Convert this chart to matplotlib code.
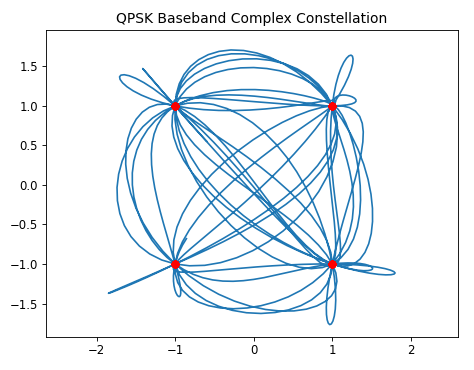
import numpy as np
import matplotlib
matplotlib.use("Agg")
import matplotlib.pyplot as plt

# QPSK symbol sequence (in-phase and quadrature components)
sym_i = [-1, -1, 1, 1, 1, -1, 1, 1, -1, 1, -1, -1, 1, -1, 1, 1, 1, -1, -1, 1,
         -1, 1, 1, 1, -1, 1, -1, 1, 1, 1, -1, -1, 1, -1, 1, -1, -1, 1, 1, -1,
         1, 1, -1, -1, 1, -1, -1, -1]
sym_q = [1, 1, -1, 1, 1, -1, -1, -1, 1, 1, -1, -1, 1, 1, -1, 1, -1, 1, 1, 1,
         -1, -1, 1, 1, 1, -1, -1, 1, -1, -1, 1, -1, 1, 1, -1, -1, 1, -1, 1, 1,
         -1, -1, -1, 1, 1, 1, -1, -1]

sps = 16
beta = 0.25
span = 10

plt.rcParams["font.size"] = 10.6
plt.rcParams["axes.titlesize"] = 12.7

symbols = np.array(sym_i) + 1j * np.array(sym_q)
up = np.zeros(len(symbols) * sps, dtype=complex)
up[::sps] = symbols

t = np.arange(-span * sps // 2, span * sps // 2 + 1) / sps
with np.errstate(divide="ignore", invalid="ignore"):
    h = np.sinc(t) * np.cos(np.pi * beta * t) / (1 - (2 * beta * t) ** 2)
sing = np.isclose(np.abs(2 * beta * t), 1.0)
h[sing] = np.pi / 4 * np.sinc(1 / (2 * beta))

shaped = np.convolve(up, h)
delay = span * sps // 2
sig = shaped[delay - sps // 3: delay + (len(symbols) - 1) * sps + sps // 3]
samples = shaped[delay: delay + len(symbols) * sps: sps]

fig = plt.figure(figsize=(474 / 79, 370 / 79), dpi=79)
ax = fig.add_axes([45.5 / 474, 1 - 336.7 / 370, (458 - 45.5) / 474, (336.7 - 30) / 370])
ax.plot(sig.real, sig.imag, color="#1f77b4")
ax.plot(samples.real, samples.imag, "ro")
ax.set_title("QPSK Baseband Complex Constellation")
ax.set_xlim(-2.65, 2.60)
ax.set_ylim(-1.92, 1.96)
fig.savefig("out.png", dpi=79)
